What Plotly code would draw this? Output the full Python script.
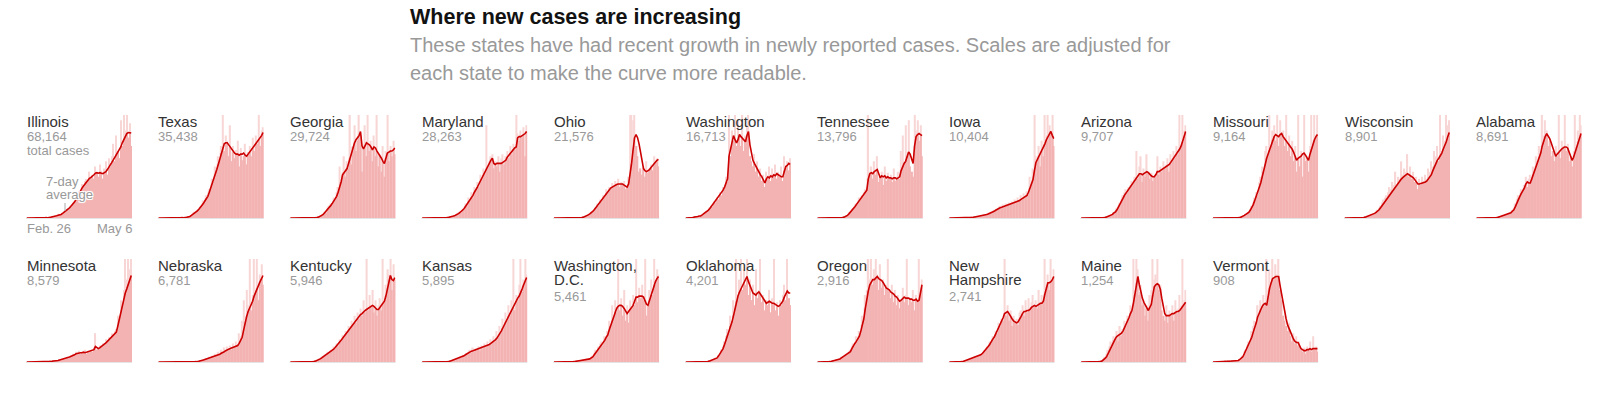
import plotly.graph_objects as go
import pandas as pd

# ---------------- data ----------------
dates = pd.date_range("2020-02-26", "2020-05-06", freq="D")
first_date_label = "Feb. 26"
last_date_label = "May 6"

title_text = "Where new cases are increasing"
subtitle_lines = [
    "These states have had recent growth in newly reported cases. Scales are adjusted for",
    "each state to make the curve more readable.",
]

state_names = ["Illinois", "Texas", "Georgia", "Maryland", "Ohio", "Washington",
               "Tennessee", "Iowa", "Arizona", "Missouri", "Wisconsin", "Alabama",
               "Minnesota", "Nebraska", "Kentucky", "Kansas", "Washington, D.C.",
               "Oklahoma", "Oregon", "New Hampshire", "Maine", "Vermont"]
label_lines = [["Illinois"], ["Texas"], ["Georgia"], ["Maryland"], ["Ohio"], ["Washington"],
               ["Tennessee"], ["Iowa"], ["Arizona"], ["Missouri"], ["Wisconsin"], ["Alabama"],
               ["Minnesota"], ["Nebraska"], ["Kentucky"], ["Kansas"], ["Washington,", "D.C."],
               ["Oklahoma"], ["Oregon"], ["New", "Hampshire"], ["Maine"], ["Vermont"]]
total_cases = [68164, 35438, 29724, 28263, 21576, 16713, 13796, 10404, 9707, 9164, 8901, 8691,
               8579, 6781, 5946, 5895, 5461, 4201, 2916, 2741, 1254, 908]

# values in percent of each state's own scale (scales differ per state)
illinois_avg = [0,0,0,0,0,0,0,0,0,0,0,0,0,0, 0.3,0.5,0.8,1,1.3,1.7,2.2,2.7,3,3.5,
                4.5,5.5,6.5,7.5,9,10.5,12,14,15.5,18, 21,24,27,29,31,33,35,37,38.5,39.5,
                40.5,42,43.5,44,43.5,44,43.5,43,44,45, 47,49,51.5,54,56.5,59,61.5,64,66,69,
                73,76,79,82,83,82.5,82.5]
illinois_daily = [0,0,0,0,0,0,0,0,0,0,0,0,0,1, 0,1,1,1,2,2,3,2,4,4, 5,6,7,9,8,12,11,15,16,20,
                  22,26,25,33,30,36,38,35,45,40, 42,38,50,44,40,52,46,38,48,55,
                  42,58,50,60,72,55,80,65,58,95, 70,102,85,110,78,92,70]

texas_avg = [0,0,0,0,0,0,0,0,0,0,0,0,0,0,0, 0.5,0.5,0.5,0.5,0.8,1,1.5,2.5,3.5,5,
             6,7,8.5,10,12,14,16.5,19,21,25, 29,33,37,42,47,52,57,63,69,72,
             73,73,71,69,66,64,63,62,62,61, 62,62,63,61,60,62,64,66,68,69, 72,74,76,77,80,83]
texas_daily = [0,0,0,0,0,0,0,0,0,0,0,0,0,0,0, 0,1,0,1,1,1,2,3,4,6,
               5,8,9,11,12,17,15,22,20,28, 30,38,35,50,45,60,55,70,100,65,
               80,75,60,90,55,70,58,66,75,50, 68,56,60,72,52,64,70,60,78,65, 80,72,100,70,85,88]

georgia_avg = [0,0,0,0,0,0,0,0,0,0,0,0,0,0,0,0,0,0, 0.5,1,1.5,2.5,3.5,5,6.5,8,10,12,
               14,16,18,21,25,29,35,42,44,46, 48,53,58,64,69,73,76,78,80,84,
               70,67,71,73,72,71,69,66,69,68, 65,63,61,58,55,53,58,63,64,65, 65,66,68]
georgia_daily = [0,0,0,0,0,0,0,0,0,0,0,0,0,0,0,0,0,0, 1,1,2,3,4,6,5,10,12,14,
                 13,20,18,25,30,50,35,45,60,40, 55,48,100,52,70,90,65,75,100,80,
                 45,70,90,60,100,65,75,55,80,60, 100,50,62,45,70,40,65,100,55,70, 60,75,62]

maryland_avg = [0,0,0,0,0,0,0,0,0,0,0,0,0,0,0,0,0, 0.5,0.8,1,1.5,2,2.5,3,4,5,6,
                7.5,9,11,13.5,16,18,20,22,25,27, 30,33,36,39,42,45,48,51,53,56,
                58,53,52,53,53,53,53,54,55,56, 59,61,63,65,67,68,69,78,79,79, 80,81,82,84]
maryland_daily = [0,0,0,0,0,0,0,0,0,0,0,0,0,0,0,0,0, 1,1,1,2,2,3,3,5,6,5,
                  9,8,14,12,20,16,25,20,30,28, 35,30,42,38,48,45,90,50,55,60,
                  62,48,55,50,60,45,58,62,52,60, 65,58,70,62,72,66,100,82,75,85, 78,88,60,90]

ohio_avg = [0,0,0,0,0,0,0,0,0,0,0,0,0,0,0,0,0,0,0, 0.5,1,1.5,2,3,4,5,6.5,8,10,
            12,14,16,18,20,22,24,26,27.5,29, 30,31,32,32.5,33,33,33,33,32,31,
            30,33,42,53,66,78,81,78,72,63, 54,48,46,45,46,47,49,51,53,54, 56,57]
ohio_daily = [0,0,0,0,0,0,0,0,0,0,0,0,0,0,0,0,0,0,0, 1,1,2,2,4,3,6,5,9,10,
              14,12,18,16,22,20,28,24,30,28, 34,30,36,32,38,30,35,34,36,28,
              30,40,100,110,95,100,70,60,45,48, 42,50,40,55,44,48,52,46,60,55, 58,50]

washington_avg = [0,0,0,0,0, 0.5,1,1,1.5,2,2,3,4,5,6, 7.5,9,11,12.5,14,16,18,20,22,24.5,
                  27,30,34,38,60,68,74,80,76,73, 76,81,79,77,75,74,80,84,71,62,
                  56,53,50,48,45,42,40,37,34,38, 40,39,41,40,42,41,43,42,41,40, 40,46,50,51,53,52]
washington_daily = [0,0,0,0,0, 1,1,1,2,2,3,3,5,6,7, 8,10,12,11,16,15,20,18,25,22,
                    30,28,40,35,100,60,85,75,100,70, 95,80,70,100,65,80,90,100,60,55,
                    50,62,45,55,40,48,36,42,30,45, 38,50,36,48,40,52,38,45,40,50, 36,60,48,55,46,58]

tennessee_avg = [0,0,0,0,0,0,0,0,0,0,0,0,0,0,0,0,0, 0.5,1,1.5,2.5,4,5.5,7,9,11,13,
                 15,17,19,21,23,25,27,38,43,44, 43,45,46,47,43,39,41,40,41,39,
                 40,39,39,38,39,39,38,39,40,46, 50,53,55,60,64,62,57,53,70,79, 81,82,81,80]
tennessee_daily = [0,0,0,0,0,0,0,0,0,0,0,0,0,0,0,0,0, 1,1,2,3,5,6,8,10,12,14,
                   15,20,18,22,25,28,30,100,45,50, 38,55,42,60,35,40,45,32,50,36,
                   44,38,42,35,48,36,40,45,38,65, 80,55,90,62,95,50,45,40,100,85, 95,75,90,60]

iowa_avg = [0,0,0,0,0,0,0,0,0,0,0,0,0,0,0, 0.5,0.7,1,1.2,1.5,1.8,2,2.3,2.6,3,
            3.3,3.8,4.3,5,5.8,6.5,7.5,8.5,9,10, 10.5,11,11.5,12,12.5,13,13.5,14,14.5,15,
            16,16.5,17,18,19,20,21,22,25,29, 33,37,46,54,57,60,62,65,68,72, 76,79,82,84,80,77]
iowa_daily = [0,0,0,0,0,0,0,0,0,0,0,0,0,0,0, 1,0,1,1,2,2,2,3,2,4,
              3,5,4,6,5,8,7,9,10,12, 10,13,11,14,12,15,13,16,14,18,
              15,20,17,22,18,24,20,26,22,40, 35,48,100,60,55,70,50,75,60,100, 80,100,90,85,100,70]

arizona_avg = [0,0,0,0,0,0,0,0,0,0,0,0,0,0,0,0, 0.5,1,1.5,2,2.5,3.5,5,6,8,10.5,
               13,16,19,22,24,26,28,30,32,34.5, 37,39,41,43,43,42,43,44,45,44,
               42,41,40,40,42,45,45,46,47,48, 49,50,51,52,54,56,58,60,62,65, 67,70,74,79,84]
arizona_daily = [0,0,0,0,0,0,0,0,0,0,0,0,0,0,0,0, 1,1,2,2,3,4,6,7,10,12,
                 15,18,22,25,28,24,30,32,36,34, 40,65,38,50,60,35,48,40,62,45,
                 38,44,36,42,40,60,42,50,45,55, 48,52,58,45,62,55,65,58,70,62, 100,72,100,85,90]

missouri_avg = [0,0,0,0,0,0,0,0,0,0,0,0,0,0,0,0,0,0, 0.5,1,1.5,2.5,3.5,4.5,5.5,7.5,10,13,
                17,21,25,29,34,40,45,52,58,62, 66,71,76,79,81,80,79,81,82,79,
                77,75,74,72,70,67,64,60,56,58, 59,60,62,63,61,58,56,62,67,72, 76,79,81]
missouri_daily = [0,0,0,0,0,0,0,0,0,0,0,0,0,0,0,0,0,0, 1,1,2,3,4,5,6,9,12,15,
                  20,25,22,35,40,50,45,65,70,60, 100,70,85,90,75,100,70,95,80,85,
                  70,100,65,80,60,75,55,70,45,100, 50,65,40,100,55,60,45,70,100,75, 100,80,100]

wisconsin_avg = [0,0,0,0,0,0,0,0,0,0,0,0,0, 0.5,1,1.5,2,2.5,3,3.5,4.5,5.5,6.5,
                 8,10,12,14,16.5,19,21,23,25,27, 28.5,30,32,34,37,38,39.5,41,42,43,
                 42,41,40,39,37,35,33,33,33.5,34, 34,35,36,38,40,42,46,50,54,56,
                 58,60,63,67,70,74,79,83]
wisconsin_daily = [0,0,0,0,0,0,0,0,0,0,0,0,0, 1,1,2,2,3,4,4,5,7,8,
                   10,12,15,18,20,22,25,30,28,35, 32,45,30,40,38,55,42,48,45,62,
                   40,50,38,45,35,40,28,38,32,40, 36,42,38,48,45,55,50,65,60,70,
                   55,100,65,80,75,100,90,95]

alabama_avg = [0,0,0,0,0,0,0,0,0,0,0,0,0,0, 0.5,1,1.5,2,2.5,3,3,3.5,4,5,
               6.5,8,11,15,19,21,24,26,29,33, 35,34,34,38,42,46,50,55,59,63,
               70,75,79,82,80,77,73,68,64,60, 62,64,66,67,68,69,69,68,64,60, 56,59,64,69,74,78,82]
alabama_daily = [0,0,0,0,0,0,0,0,0,0,0,0,0,0, 1,1,2,2,3,3,4,4,5,6,
                 8,10,14,18,22,20,28,25,32,40, 30,38,42,35,50,45,60,55,70,65,
                 100,80,95,85,70,75,60,65,55,70, 60,100,58,75,70,100,65,72,55,60, 50,65,100,70,85,100,90]

minnesota_avg = [0,0,0,0,0,0,0,0,0,0,0,0,0,0,0, 0.3,0.5,0.7,1,1,1.2,1.5,2,2.3,2.7,
                 3,3.5,4,4.5,5,5.5,6.5,7,8,8.5, 9,9,9,9.5,9,9.5,10,10,10.5,11,
                 12,15,14,13,14,15,16,17,18.5,20, 21.5,23,24.5,26,27.5,29,35,42,48,54,
                 60,67,71,75,80,84]
minnesota_daily = [0,0,0,0,0,0,0,0,0,0,0,0,0,0,0, 0,1,1,1,1,2,2,3,2,3,
                   4,3,5,4,6,5,8,7,10,9, 11,8,10,9,12,8,11,10,12,10,
                   14,28,12,13,16,15,18,17,22,20, 24,22,28,26,30,32,45,40,60,55,
                   70,100,80,100,90,105]

nebraska_avg = [0,0,0,0,0,0,0,0,0,0,0,0,0,0,0,0,0,0,0,0,0,0,0,0,0,
                0.3,0.5,0.8,1,1.5,2,2.5,3,3.3,3.7, 4,4.5,5,6,6.5,7,7.5,8.5,9,10,
                11,12,12.5,13,13.5,14,15,15.5,16,18, 21,24,31,39,44,49,52,55,59,64,
                68,72,75,78,81,84]
nebraska_daily = [0,0,0,0,0,0,0,0,0,0,0,0,0,0,0,0,0,0,0,0,0,0,0,0,0,
                  1,0,1,1,2,3,2,4,3,5, 4,6,5,8,7,10,8,12,10,14,
                  12,15,13,16,12,18,14,20,16,28, 25,40,60,45,70,55,100,50,65,110,
                  70,100,60,85,95,75]

kentucky_avg = [0,0,0,0,0,0,0,0,0,0,0,0,0,0,0,0, 0.5,1,1.5,2,3,4,5,6,7,8,
                9,10,11,12.5,14,15.5,17,19,21,23, 25,27,29,31,33,35,37,38,40,42,
                44,46,47,49,50,51,52,53,54,55, 54,52,51,51,53,55,57,59,64,72, 80,84,80,79,82]
kentucky_daily = [0,0,0,0,0,0,0,0,0,0,0,0,0,0,0,0, 1,1,2,2,4,5,6,7,8,10,
                  9,12,11,15,13,18,16,22,20,26, 24,30,28,35,32,40,36,45,38,48,
                  42,52,45,60,48,100,50,65,55,70, 48,60,45,55,62,50,100,58,75,90, 85,100,70,95,80]

kansas_avg = [0,0,0,0,0,0,0,0,0,0,0,0,0,0,0,0,0,0, 0.5,1,1.5,2,2.5,3,3.5,4,4.5,5,
              6,7,8,9,10,10.5,11,11.5,12,12.5, 13,13.5,14,14.5,15,16,16.5,17,18,19,
              20,21.5,23,25,27,30,33,36,39,42, 45,48,50,53,56,59,62,64,67,71, 75,79,82]
kansas_daily = [0,0,0,0,0,0,0,0,0,0,0,0,0,0,0,0,0,0, 1,1,2,2,3,3,4,5,4,6,
                7,6,9,10,12,9,14,10,13,12, 15,11,16,13,18,14,20,16,22,18,
                25,20,30,24,35,28,42,35,48,40, 55,45,60,100,50,65,60,75,100,68, 80,100,85]

dc_avg = [0,0,0,0,0,0,0,0,0,0,0,0,0, 0.3,0.5,0.8,1,1,1.2,1.5,1.7,2,2,
          2.5,3,4,5,7,9,11,13,15,17, 18,21,24,26,31,35,40,45,49,52,
          54,55,55,54,52,49,47,49,51,53, 55,59,63,63,64,64,64,63,60,56,
          55,60,65,70,75,78,81,83]
dc_daily = [0,0,0,0,0,0,0,0,0,0,0,0,0, 0,1,1,1,2,1,2,2,3,2,
            3,4,5,6,9,12,10,15,18,20, 16,25,22,30,40,35,55,42,60,48,
            100,50,62,45,70,40,55,38,60,52, 65,55,100,58,72,62,75,60,100,45,
            58,70,80,65,100,75,90,85]

oklahoma_avg = [0,0,0,0,0,0,0,0,0,0,0,0,0,0, 0.3,0.5,1,1.5,2,2.5,3,4,6,8,
                10,13,17,21,26,30,35,39,45,52, 59,64,68,71,74,77,80,83,78,74,
                70,67,66,65,67,68,66,64,62,59, 57,58,59,58,57,57,56,55,54,55, 57,59,63,67,69,67,67]
oklahoma_daily = [0,0,0,0,0,0,0,0,0,0,0,0,0,0, 0,1,1,2,2,3,4,3,6,8,
                  12,15,20,25,32,30,45,40,60,55, 100,65,80,100,70,90,75,100,65,80,
                  60,75,55,90,62,70,100,58,65,50, 60,55,70,48,62,100,50,58,45,60, 55,65,75,60,100,62,55]

oregon_avg = [0,0,0,0,0,0,0,0, 0.3,0.5,1,1.3,1.7,2,2.5,3,4,5,
              6,7,8,9,10,13,16,18,20,22, 25,30,36,42,52,62,69,75,78,80,
              80,82,83,81,80,79,77,74,72,71, 70,68,67,66,64,63,61,59,60,62,
              63,62,62,62,61,61,60,60,61,59, 60,67,75]
oregon_daily = [0,0,0,0,0,0,0,0, 1,0,1,2,2,3,2,4,5,6,
                5,8,7,10,12,15,18,16,25,20, 30,28,45,40,65,70,100,80,100,75,
                90,100,85,70,95,72,80,65,75,100, 68,62,75,58,70,55,65,52,60,72,
                58,65,100,55,62,58,70,50,65,58, 100,72,80]

new_hampshire_avg = [0,0,0,0,0,0,0,0, 0.3,0.5,1,1.5,2,2.5,3,3.5,4,4.5,
                     5,6,6.5,7,8,9.5,11,13,15,17, 20,22,24,27,30,33,36,40,43,47,
                     48,49,47,44,42,40,39,38,39,41, 44,47,49,49,50,50,51,53,54,55,
                     54,55,56,57,57,59,66,73,77,77, 78,80,83]
new_hampshire_daily = [0,0,0,0,0,0,0,0, 1,0,1,2,2,3,3,4,4,5,
                       6,5,7,8,7,10,12,14,15,20, 18,25,22,30,28,38,35,42,40,100,
                       45,55,40,50,35,45,38,42,36,48, 50,55,45,60,48,62,52,58,65,55,
                       60,52,70,58,65,60,100,75,85,70, 100,80,90]

maine_avg = [0,0,0,0,0,0,0,0,0,0,0,0, 0.3,0.5,1,2,3.5,5,8,12,15,18,
             21,23,25,26,27,28,30,33,36,39, 43,47,50,57,65,77,83,75,68,62,
             58,55,52,50,53,56,65,73,75,76, 75,71,62,53,47,45,45,45,46,47,
             47,48,49,49,50,52,54,56,58]
maine_daily = [0,0,0,0,0,0,0,0,0,0,0,0, 1,0,2,3,5,8,12,15,20,18,
               25,22,30,20,35,25,32,40,35,45, 42,55,50,100,70,100,90,65,75,55,
               60,45,55,40,65,70,100,80,85,100, 70,75,50,45,40,55,38,50,45,55,
               40,60,48,52,65,55,100,60,70]

vermont_avg = [0,0,0,0,0,0,0,0, 0.3,0.5,0.7,0.8,0.8,1,1,1,1,1.5,
               2.5,3.5,5,8,11,14,17,20,24,29, 33,38,44,48,51,54,56,57,55,64,
               72,77,81,82,83,83,83,74,65,57, 49,42,36,32,28,25,22,20,19,19,
               16,13,12,11,11,12,12,13,12,13, 13,13,13]
vermont_daily = [0,0,0,0,0,0,0,0, 1,0,1,1,0,2,1,1,1,2,
                 3,4,6,10,12,16,20,18,30,35, 40,38,55,45,60,50,65,55,100,70,
                 90,75,100,80,95,85,100,70,60,45, 40,35,30,38,25,20,28,18,25,16,
                 20,12,10,14,8,15,12,20,10,25, 12,15,10]

series_avg = [illinois_avg, texas_avg, georgia_avg, maryland_avg, ohio_avg, washington_avg,
              tennessee_avg, iowa_avg, arizona_avg, missouri_avg, wisconsin_avg, alabama_avg,
              minnesota_avg, nebraska_avg, kentucky_avg, kansas_avg, dc_avg, oklahoma_avg,
              oregon_avg, new_hampshire_avg, maine_avg, vermont_avg]
series_daily = [illinois_daily, texas_daily, georgia_daily, maryland_daily, ohio_daily,
                washington_daily, tennessee_daily, iowa_daily, arizona_daily, missouri_daily,
                wisconsin_daily, alabama_daily, minnesota_daily, nebraska_daily, kentucky_daily,
                kansas_daily, dc_daily, oklahoma_daily, oregon_daily, new_hampshire_daily,
                maine_daily, vermont_daily]

# ---------------- styling / layout ----------------
# positions below are in page pixels (the page margin is removed below)
W, H = 1600, 394
N_COLS = 12
LEFT0 = 26.0
COL_STEP = 131.8
PANEL_W = 106.0
ROW_TOP = [115.0, 259.0]
ROW_BOTTOM = [218.0, 362.0]
NAME_Y = [121.7, 265.7]
TXT_PAD = 1.5

BAR_COLOR = "#f3b3b3"
BAR_LIGHT = "#f9d6d6"
LINE_COLOR = "#cc0000"
NAME_COLOR = "#333333"
GRAY = "#999999"
FONT = "Liberation Sans, Arial, sans-serif"


def px(x):
    return x / W


def py(y):
    return 1 - y / H


def text_ann(text, x, y, size, color, anchor="left", **fontkw):
    dx = -TXT_PAD if anchor == "left" else TXT_PAD
    return dict(text=text, x=px(x + dx), y=py(y), xref="paper", yref="paper",
                xanchor=anchor, yanchor="middle", showarrow=False,
                font=dict(family=FONT, size=size, color=color, **fontkw))


fig = go.Figure()
axes = {}
shapes = []
annotations = []

x_range = [dates[0] - pd.Timedelta(hours=12), dates[-1] + pd.Timedelta(hours=12)]

for i, name in enumerate(state_names):
    r, c = divmod(i, N_COLS)
    x0 = LEFT0 + c * COL_STEP
    x1 = x0 + PANEL_W
    k = i + 1
    xa = "x" if k == 1 else f"x{k}"
    ya = "y" if k == 1 else f"y{k}"
    sfx = "" if k == 1 else str(k)
    daily = series_daily[i]
    avg = series_avg[i]
    below = [min(d, a) for d, a in zip(daily, avg)]
    # full daily bar (lighter where it rises above the average line)
    fig.add_trace(go.Bar(x=dates, y=daily, xaxis=xa, yaxis=ya,
                         marker=dict(color=BAR_LIGHT, line=dict(width=0)),
                         hoverinfo="skip", name=name))
    fig.add_trace(go.Bar(x=dates, y=below, xaxis=xa, yaxis=ya,
                         marker=dict(color=BAR_COLOR, line=dict(width=0)),
                         hoverinfo="skip", name=name))
    fig.add_trace(go.Scatter(x=dates, y=avg, xaxis=xa, yaxis=ya, mode="lines",
                             line=dict(color=LINE_COLOR, width=1.6),
                             hoverinfo="skip", name=name))
    axes["xaxis" + sfx] = dict(domain=[px(x0), px(x1)], range=x_range, visible=False,
                               anchor=ya, fixedrange=True)
    axes["yaxis" + sfx] = dict(domain=[py(ROW_BOTTOM[r]), py(ROW_TOP[r])], range=[0, 100],
                               visible=False, anchor=xa, fixedrange=True)
    shapes.append(dict(type="line", xref="paper", yref="paper", x0=px(x0), x1=px(x1),
                       y0=py(ROW_BOTTOM[r] + 0.5), y1=py(ROW_BOTTOM[r] + 0.5),
                       line=dict(color="#e4e4e4", width=1), layer="below"))
    yy = NAME_Y[r]
    lines = label_lines[i]
    for j, ln in enumerate(lines):
        annotations.append(text_ann(ln, x0, yy + 14 * j, 15, NAME_COLOR))
    ny = yy + 15 + 16 * (len(lines) - 1)
    annotations.append(text_ann(f"{total_cases[i]:,}", x0, ny, 13, GRAY))

# Illinois key
halo = "-1px -1px 0 #fff, 1px -1px 0 #fff, -1px 1px 0 #fff, 1px 1px 0 #fff, 0 0 2px #fff"
annotations.append(text_ann("total cases", LEFT0, 150.7, 13, GRAY))
annotations.append(text_ann("7-day", 45, 181, 13, GRAY, shadow=halo))
annotations.append(text_ann("average", 45, 194, 13, GRAY, shadow=halo))
shapes.append(dict(type="line", xref="paper", yref="paper", x0=px(65), x1=px(65),
                   y0=py(203), y1=py(211), line=dict(color="#aaaaaa", width=1)))
annotations.append(text_ann(first_date_label, LEFT0, 228.5, 13, GRAY))
annotations.append(text_ann(last_date_label, LEFT0 + PANEL_W, 228.5, 13, GRAY, anchor="right"))

# title & subtitle
annotations.append(text_ann(f"<b>{title_text}</b>", 409, 16.5, 21.5, "#121212"))
for j, ln in enumerate(subtitle_lines):
    annotations.append(text_ann(ln, 409, 45 + 28.5 * j, 20, GRAY))

fig.update_layout(width=W, height=H, margin=dict(l=0, r=0, t=0, b=0),
                  paper_bgcolor="white", plot_bgcolor="rgba(0,0,0,0)", showlegend=False,
                  barmode="overlay", bargap=0.12, shapes=shapes, annotations=annotations, **axes)

fig.write_html("out.html", config={"displayModeBar": False},
               post_script="document.body.style.margin='0px';")
